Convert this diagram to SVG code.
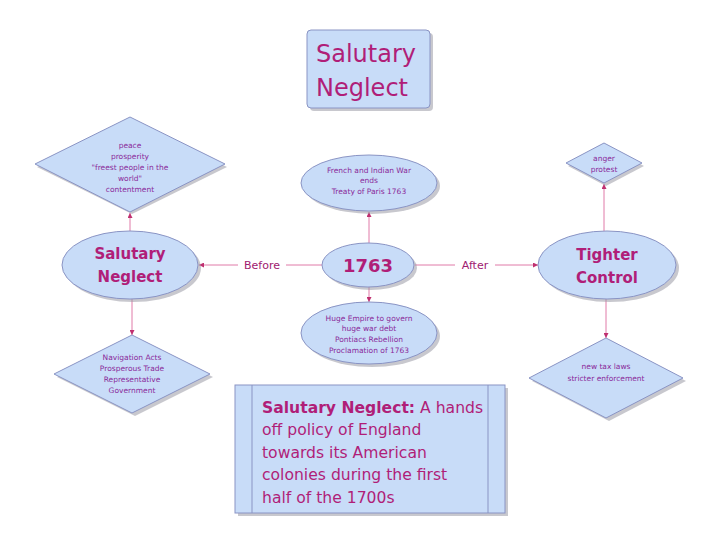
<svg xmlns="http://www.w3.org/2000/svg" width="720" height="540" viewBox="0 0 720 540">
<style>
.shape{fill:#c8dcf8;stroke:#8a94c4;stroke-width:1}
.shadow{fill:#9a9aa6;opacity:0.55}
.small{font-family:"DejaVu Sans",sans-serif;font-size:7.5px;fill:#8a2a9a;text-anchor:middle}
.big{font-family:"DejaVu Sans",sans-serif;font-weight:bold;fill:#b01e78;text-anchor:middle}
.lbl{font-family:"DejaVu Sans",sans-serif;font-size:11px;fill:#a02070;text-anchor:middle}
.conn{stroke:#e07aa8;stroke-width:1;fill:none;marker-end:url(#ah)}
.def{font-family:"DejaVu Sans",sans-serif;font-size:15.6px;fill:#b01e78}
</style>
<defs>
<marker id="ah" viewBox="0 0 6 6" refX="6" refY="3" markerWidth="5" markerHeight="5" orient="auto">
<path d="M0,0 L6,3 L0,6 z" fill="#c03070"/>
</marker>
</defs>
<rect width="720" height="540" fill="#ffffff"/>

<g id="connectors">
<line class="conn" x1="322" y1="265" x2="199" y2="265"/>
<line class="conn" x1="415" y1="265" x2="538" y2="265"/>
<line class="conn" x1="369" y1="243" x2="369" y2="212"/>
<line class="conn" x1="369" y1="287" x2="369" y2="302"/>
<line class="conn" x1="130" y1="232" x2="130" y2="213"/>
<line class="conn" x1="132" y1="299" x2="132" y2="335"/>
<line class="conn" x1="604" y1="231" x2="604" y2="184"/>
<line class="conn" x1="606" y1="299" x2="606" y2="338"/>
<rect x="238" y="259" width="48" height="13" fill="#ffffff"/>
<text class="lbl" x="262" y="269">Before</text>
<rect x="455" y="259" width="40" height="13" fill="#ffffff"/>
<text class="lbl" x="475" y="269">After</text>
</g>

<g id="title">
<rect class="shadow" x="310" y="33" width="123" height="78" rx="4"/>
<rect class="shape" x="307" y="30" width="123" height="78" rx="4"/>
<text class="big" x="366" y="62" style="font-weight:normal;font-size:24px">Salutary</text>
<text class="big" x="362" y="96" style="font-weight:normal;font-size:24px">Neglect</text>
</g>

<g id="diamond-top-left">
<polygon class="shadow" points="132,120 227,167 132,214 37,167"/>
<polygon class="shape" points="130,117 225,164 130,212 35,164"/>
<text class="small" x="130" y="148">peace</text>
<text class="small" x="130" y="159">prosperity</text>
<text class="small" x="130" y="170">"freest people in the</text>
<text class="small" x="130" y="181">world"</text>
<text class="small" x="130" y="192">contentment</text>
</g>

<g id="ellipse-salutary">
<ellipse class="shadow" cx="133" cy="268" rx="68" ry="34"/>
<ellipse class="shape" cx="130" cy="265" rx="68" ry="34"/>
<text class="big" x="130" y="259" style="font-size:15px">Salutary</text>
<text class="big" x="130" y="282" style="font-size:15px">Neglect</text>
</g>

<g id="diamond-bottom-left">
<polygon class="shadow" points="135,338 213,377 135,416 57,377"/>
<polygon class="shape" points="132,335 210,374 132,413 54,374"/>
<text class="small" x="132" y="360">Navigation Acts</text>
<text class="small" x="132" y="371">Prosperous Trade</text>
<text class="small" x="132" y="382">Representative</text>
<text class="small" x="132" y="393">Government</text>
</g>

<g id="ellipse-french">
<ellipse class="shadow" cx="372" cy="186" rx="68" ry="28"/>
<ellipse class="shape" cx="369" cy="183" rx="68" ry="28"/>
<text class="small" x="369" y="173">French and Indian War</text>
<text class="small" x="369" y="183">ends</text>
<text class="small" x="369" y="194">Treaty of Paris 1763</text>
</g>

<g id="ellipse-1763">
<ellipse class="shadow" cx="371" cy="268" rx="46" ry="22"/>
<ellipse class="shape" cx="368" cy="265" rx="46" ry="22"/>
<text class="big" x="368" y="272" style="font-size:18px">1763</text>
</g>

<g id="ellipse-huge">
<ellipse class="shadow" cx="372" cy="336" rx="68" ry="31"/>
<ellipse class="shape" cx="369" cy="333" rx="68" ry="31"/>
<text class="small" x="369" y="321">Huge Empire to govern</text>
<text class="small" x="369" y="331">huge war debt</text>
<text class="small" x="369" y="342">Pontiacs Rebellion</text>
<text class="small" x="369" y="353">Proclamation of 1763</text>
</g>

<g id="diamond-anger">
<polygon class="shadow" points="606,146 644,166 606,186 568,166"/>
<polygon class="shape" points="604,143 642,163 604,183 566,163"/>
<text class="small" x="604" y="161">anger</text>
<text class="small" x="604" y="172">protest</text>
</g>

<g id="ellipse-tighter">
<ellipse class="shadow" cx="610" cy="268" rx="69" ry="34"/>
<ellipse class="shape" cx="607" cy="265" rx="69" ry="34"/>
<text class="big" x="607" y="260" style="font-size:15px">Tighter</text>
<text class="big" x="607" y="283" style="font-size:15px">Control</text>
</g>

<g id="diamond-bottom-right">
<polygon class="shadow" points="609,341 686,381 609,421 532,381"/>
<polygon class="shape" points="606,338 683,378 606,418 529,378"/>
<text class="small" x="606" y="369">new tax laws</text>
<text class="small" x="606" y="381">stricter enforcement</text>
</g>

<g id="definition">
<rect class="shadow" x="238" y="388" width="270" height="128"/>
<rect class="shape" x="235" y="385" width="270" height="128"/>
<line x1="252" y1="385" x2="252" y2="513" stroke="#8a94c4" stroke-width="1"/>
<line x1="488" y1="385" x2="488" y2="513" stroke="#8a94c4" stroke-width="1"/>
<text class="def" x="262" y="413"><tspan font-weight="bold">Salutary Neglect:</tspan> A hands</text>
<text class="def" x="262" y="435">off policy of England</text>
<text class="def" x="262" y="458">towards its American</text>
<text class="def" x="262" y="480">colonies during the first</text>
<text class="def" x="262" y="503">half of the 1700s</text>
</g>
</svg>
